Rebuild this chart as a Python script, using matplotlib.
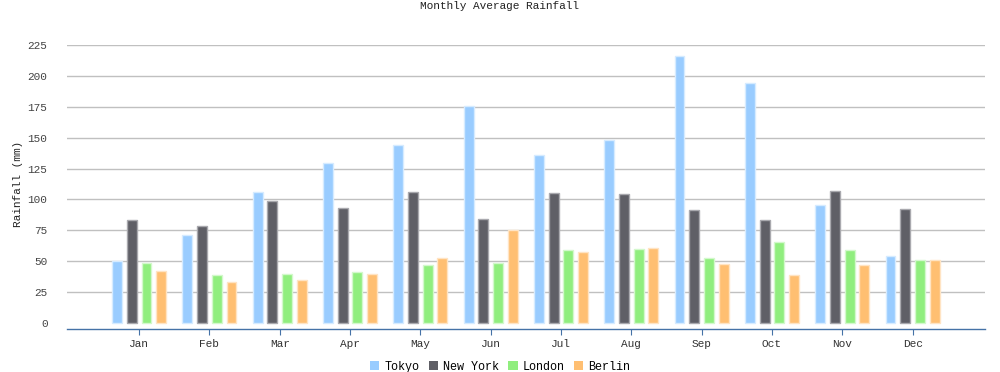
import matplotlib
matplotlib.use("Agg")
import matplotlib.pyplot as plt
import numpy as np

months = ["Jan", "Feb", "Mar", "Apr", "May", "Jun", "Jul", "Aug", "Sep", "Oct", "Nov", "Dec"]
tokyo = [49.9, 71.5, 106.4, 129.2, 144.0, 176.0, 135.6, 148.5, 216.4, 194.1, 95.6, 54.4]
new_york = [83.6, 78.8, 98.5, 93.4, 106.0, 84.5, 105.0, 104.3, 91.2, 83.5, 106.6, 92.3]
london = [48.9, 38.8, 39.3, 41.4, 47.0, 48.3, 59.0, 59.6, 52.4, 65.2, 59.3, 51.2]
berlin = [42.4, 33.2, 34.5, 39.7, 52.6, 75.5, 57.4, 60.4, 47.6, 39.1, 46.8, 51.1]
series_names = ["Tokyo", "New York", "London", "Berlin"]
y_ticks = [0, 25, 50, 75, 100, 125, 150, 175, 200, 225]

colors = ["#99ccff", "#5f5f66", "#90ee7e", "#ffbf72"]
edges = ["#d6ebff", "#a9a9ae", "#d3f8cc", "#ffe4c4"]

plt.rcParams['font.family'] = ['Liberation Mono', 'DejaVu Sans Mono']

fig = plt.figure(figsize=(10, 3.72), dpi=100)
ax = fig.add_axes([0.067, 1 - 329 / 372, 0.918, (329 - 45) / 372])

x = np.arange(len(months))
offsets = np.array([-1.5, -0.5, 0.5, 1.5]) * 0.209
width = 0.14
for data, off, c, e, name in zip([tokyo, new_york, london, berlin], offsets, colors, edges, series_names):
    ax.bar(x + off, data, width=width, color=c, edgecolor=e, linewidth=1, label=name, zorder=3)

ax.set_xlim(-1.025, 12.03)
ax.set_ylim(-4.9, 225)
ax.set_yticks(y_ticks)
for t in y_ticks[1:]:
    ax.axhline(t, color="#c0c0c0", linewidth=1, zorder=1)
ax.set_xticks(x)
ax.set_xticklabels(months)
ax.tick_params(axis='x', length=4, color="#4572a7", labelsize=8, pad=3, labelcolor="#333333")
ax.tick_params(axis='y', length=0, labelsize=8, pad=14, labelcolor="#444444")
for s in ["top", "right", "left"]:
    ax.spines[s].set_visible(False)
ax.spines["bottom"].set_color("#4572a7")
ax.spines["bottom"].set_linewidth(1)

fig.text(18 / 1000, 1 - 184 / 372, "Rainfall (mm)", rotation=90, ha="center", va="center",
         fontsize=8, color="#222222")
fig.text(0.5, 1 - 6 / 372, "Monthly Average Rainfall", ha="center", va="center", fontsize=8, color="#222222")

leg = fig.legend(loc="center", bbox_to_anchor=(0.5, 1 - 367 / 372), ncol=4, frameon=False,
                 fontsize=8.5, handlelength=0.8, handleheight=0.8, handletextpad=0.4, columnspacing=0.8,
                 borderaxespad=0, borderpad=0)
for h in leg.legend_handles:
    h.set_edgecolor("none")

fig.savefig("out.png", dpi=100)
